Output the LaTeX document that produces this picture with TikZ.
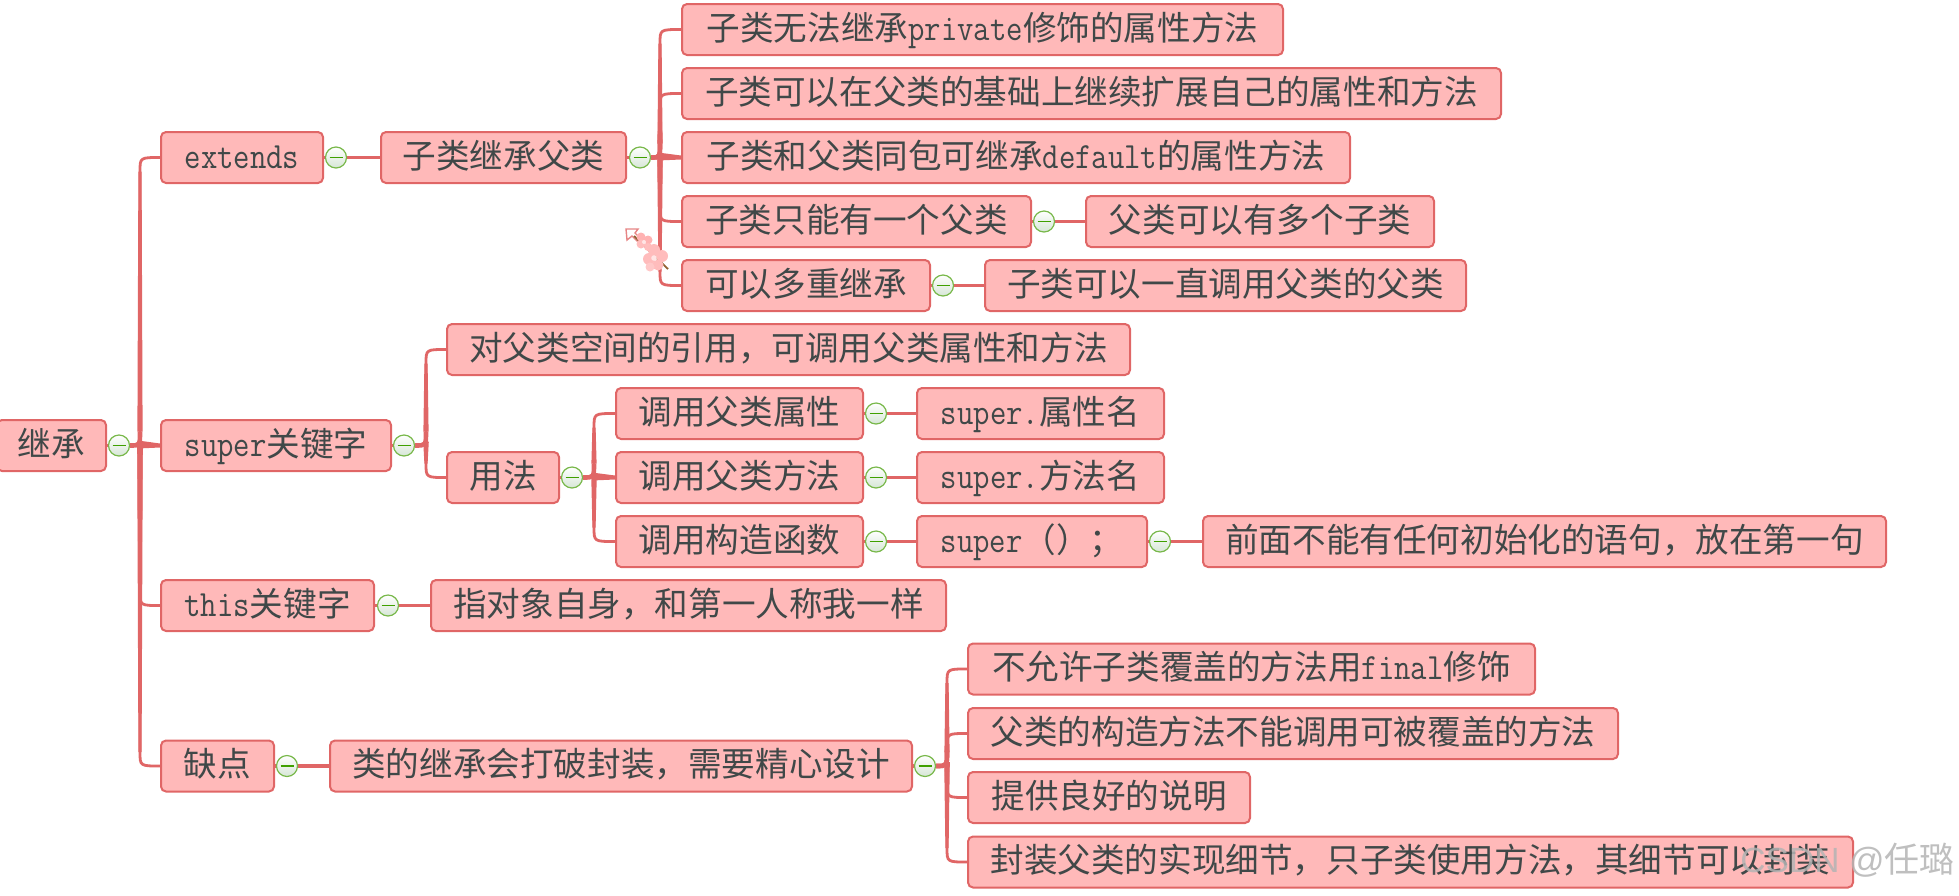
\documentclass[tikz,border=0pt]{standalone}
\usepackage{fontspec}
\setmainfont{Noto Sans CJK SC}
\newfontfamily\wmfont{Liberation Sans}
\newfontfamily\latf[FakeStretch=0.86]{Latin Modern Mono}
\usetikzlibrary{calc}
\definecolor{boxfill}{HTML}{FFB9B9}
\definecolor{boxline}{HTML}{E06666}
\definecolor{txt}{HTML}{404848}
\definecolor{toggreen}{HTML}{78B84A}
\definecolor{togfill}{HTML}{D6E6D6}
\definecolor{minusgreen}{HTML}{3FA000}
\definecolor{wmgray}{HTML}{B4B4B4}
\pgfdeclarelayer{bg}
\pgfsetlayers{bg,main}
\newcommand\ltn[1]{{\fontsize{37}{36}\selectfont\latf #1}}
\newcommand\upc[3]{\coordinate (T) at (#3,0);
 \draw[conn] (#1.east) .. controls (T |- #1.east) .. ($(T |- #1.east)+(0,-14)$) -- ($(T |- #2.west)+(0,14)$) .. controls (T |- #2.west) .. (#2.west);
 \draw[connthick] (#1.east) .. controls (T |- #1.east) .. ($(T |- #1.east)+(0,-14)$);
 \fill[boxline] ($(T |- #1.east)+(-2.6,-14)$) -- ($(T |- #1.east)+(2.6,-14)$) -- ($(T |- #2.west)+(1.6,14)$) -- ($(T |- #2.west)+(-1.6,14)$) -- cycle;}
\newcommand\dnc[3]{\coordinate (T) at (#3,0);
 \draw[conn] ($(T |- #1.east)+(0,-3)$) -- ($(T |- #2.west)+(0,-14)$) .. controls (T |- #2.west) .. (#2.west);
 \fill[boxline] ($(T |- #1.east)+(-2.8,-4)$) -- ($(T |- #1.east)+(2.8,-4)$) -- ($(T |- #2.west)+(1.6,-14)$) -- ($(T |- #2.west)+(-1.6,-14)$) -- cycle;}
\newcommand\midc[3]{\coordinate (T) at (#3,0);
 \fill[boxline] ($(T |- #2.west)+(-2,-5)$) -- ($(#2.west)+(0,-2)$) -- ($(#2.west)+(0,2)$) -- ($(T |- #2.west)+(-2,3)$) -- cycle;}
\newcommand\stub[2]{\draw[stubline] (#1.east) -- (#2.west);}
\newcommand\lead[2]{\draw[stubline] (#1.east) -- (#2.west);}
\tikzset{
 box/.style={draw=boxline,fill=boxfill,line width=2pt,rounded corners=5pt,anchor=west,minimum height=51pt,inner sep=0pt,
   text=txt,font=\fontsize{33.6}{36}\selectfont,text height=27pt,text depth=6pt},
 tog/.style={circle,minimum size=21pt,inner sep=0pt,draw=toggreen,line width=1.2pt,top color=white,bottom color=togfill,
   path picture={\draw[minusline] (path picture bounding box.center) ++(-6.5pt,0) -- ++(13pt,0);}},
 conn/.style={draw=boxline,line width=2.8pt},
 connthick/.style={draw=boxline,line width=4.6pt},
 stubline/.style={draw=boxline,line width=3.6pt},
 minusline/.style={draw=minusgreen,line width=1.4pt},
 wmark/.style={text=wmgray,opacity=.85,font=\fontsize{35}{36}\selectfont,anchor=east,inner sep=0pt}
}
\begin{document}
\begin{tikzpicture}[x=1pt,y=-1pt]
\useasboundingbox (0,0) rectangle (1959,895);
% boxes
\node[box,minimum width=109pt] (root) at (-4,445.5) {继承};
\node[box,minimum width=162pt] (ext) at (160,157.5) {\ltn{extends}};
\node[box,minimum width=245pt] (zl) at (380,157.5) {子类继承父类};
\node[box,minimum width=601pt] (a1) at (681,29.5) {子类无法继承\ltn{private}修饰的属性方法};
\node[box,minimum width=819pt] (a2) at (681,93.5) {子类可以在父类的基础上继续扩展自己的属性和方法};
\node[box,minimum width=668pt] (a3) at (681,157.5) {子类和父类同包可继承\ltn{default}的属性方法};
\node[box,minimum width=349pt] (a4) at (681,221.5) {子类只能有一个父类};
\node[box,minimum width=348pt] (a4b) at (1085,221.5) {父类可以有多个子类};
\node[box,minimum width=248pt] (a5) at (681,285.5) {可以多重继承};
\node[box,minimum width=481pt] (a5b) at (984,285.5) {子类可以一直调用父类的父类};
\node[box,minimum width=230pt] (sup) at (160,445.5) {\ltn{super}关键字};
\node[box,minimum width=683pt] (s1) at (446,349.5) {对父类空间的引用，可调用父类属性和方法};
\node[box,minimum width=112pt] (s2) at (446,477.5) {用法};
\node[box,minimum width=247pt] (u1) at (615,413.5) {调用父类属性};
\node[box,minimum width=247pt] (u1b) at (916,413.5) {\ltn{super.}属性名};
\node[box,minimum width=247pt] (u2) at (615,477.5) {调用父类方法};
\node[box,minimum width=247pt] (u2b) at (916,477.5) {\ltn{super.}方法名};
\node[box,minimum width=247pt] (u3) at (615,541.5) {调用构造函数};
\node[box,minimum width=230pt] (u3b) at (916,541.5) {\ltn{super}（）；};
\node[box,minimum width=683pt] (u3c) at (1202,541.5) {前面不能有任何初始化的语句，放在第一句};
\node[box,minimum width=213pt] (th) at (160,605.5) {\ltn{this}关键字};
\node[box,minimum width=515pt] (thb) at (430,605.5) {指对象自身，和第一人称我一样};
\node[box,minimum width=113pt] (qd) at (160,766) {缺点};
\node[box,minimum width=582pt] (qdb) at (329,766) {类的继承会打破封装，需要精心设计};
\node[box,minimum width=567pt] (q1) at (967,669) {不允许子类覆盖的方法用\ltn{final}修饰};
\node[box,minimum width=650pt] (q2) at (967,733.5) {父类的构造方法不能调用可被覆盖的方法};
\node[box,minimum width=282pt] (q3) at (967,797.5) {提供良好的说明};
\node[box,minimum width=885pt] (q4) at (967,862) {封装父类的实现细节，只子类使用方法，其细节可以封装};
% toggles
\node[tog] (t0) at (119,445.5) {};
\node[tog] (t1) at (336,157.5) {};
\node[tog] (t2) at (640,157.5) {};
\node[tog] (t3) at (1044,221.5) {};
\node[tog] (t4) at (943,285.5) {};
\node[tog] (t5) at (404,445.5) {};
\node[tog] (t6) at (572,477.5) {};
\node[tog] (t7) at (876,413.5) {};
\node[tog] (t8) at (876,477.5) {};
\node[tog] (t9) at (876,541.5) {};
\node[tog] (t10) at (1160,541.5) {};
\node[tog] (t11) at (388,605.5) {};
\node[tog] (t12) at (287,766) {};
\node[tog] (t13) at (925,766) {};
% connectors
\begin{pgfonlayer}{bg}
\stub{root}{t0}\stub{ext}{t1}\stub{zl}{t2}\stub{a4}{t3}\stub{a5}{t4}\stub{sup}{t5}\stub{s2}{t6}
\stub{u1}{t7}\stub{u2}{t8}\stub{u3}{t9}\stub{u3b}{t10}\stub{th}{t11}\stub{qd}{t12}\stub{qdb}{t13}
\lead{t1}{zl}\lead{t3}{a4b}\lead{t4}{a5b}\lead{t7}{u1b}\lead{t8}{u2b}\lead{t9}{u3b}\lead{t10}{u3c}\lead{t11}{thb}\lead{t12}{qdb}
\upc{t0}{ext}{140}\midc{t0}{sup}{140}\dnc{t0}{th}{140}\dnc{t0}{qd}{140}
\upc{t2}{a1}{660}\upc{t2}{a2}{660}\midc{t2}{a3}{660}\dnc{t2}{a4}{660}\dnc{t2}{a5}{660}
\upc{t5}{s1}{426}\dnc{t5}{s2}{426}
\upc{t6}{u1}{594}\midc{t6}{u2}{594}\dnc{t6}{u3}{594}
\upc{t13}{q1}{947}\upc{t13}{q2}{947}\dnc{t13}{q3}{947}\dnc{t13}{q4}{947}
\end{pgfonlayer}
% cursor ornament
\draw[draw=boxline!80,fill=white,line width=1.4pt] (626,229) -- (638,229) -- (635,233) -- (640,238) -- (637,241) -- (632,236) -- (627,240) -- cycle;
\draw[draw=brown!75!black,line width=1.8pt] (634,236) -- (668,269);
\fill[pink!80!red!75] (641,237) circle (4.5);
\fill[pink!80!red!75] (648,240) circle (4.5);
\fill[pink!80!red!65] (641,244) circle (4.5);
\fill[pink!80!red!65] (648,247) circle (4);
\fill[pink!70!red!55] (654,250) circle (6);
\fill[pink!70!red!55] (662,256) circle (6);
\fill[pink!70!red!55] (649,259) circle (6);
\fill[pink!70!red!55] (658,265) circle (5.5);
\fill[pink!70!red!45] (650,267) circle (4.5);
\fill[white!60!pink] (654,258) circle (2.8);
\fill[white!60!pink] (644,242) circle (2);
% watermark
\node[wmark] (wm) at (1955,860) {{\wmfont CSDN @}任璐};
\end{tikzpicture}
\end{document}
